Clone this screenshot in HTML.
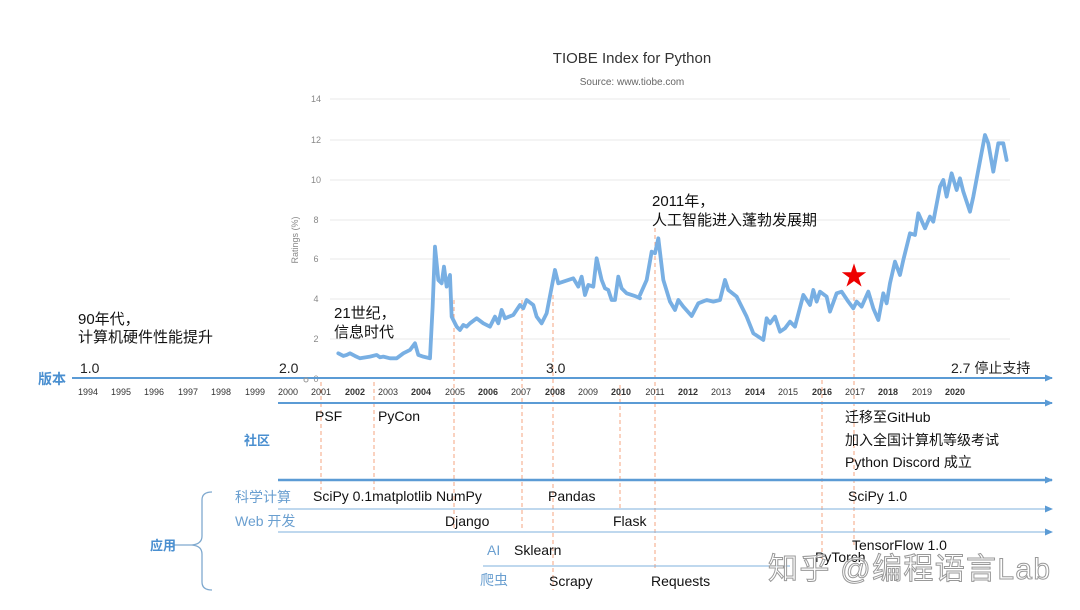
<!DOCTYPE html>
<html><head><meta charset="utf-8"><style>
html,body{margin:0;padding:0;background:#fff;}
svg{display:block;}
text{font-family:"Liberation Sans","Noto Sans CJK SC",sans-serif;}
</style></head><body>
<svg width="1080" height="610" viewBox="0 0 1080 610" xmlns="http://www.w3.org/2000/svg">
<defs>
<marker id="ar" markerWidth="8" markerHeight="8" refX="7" refY="4" orient="auto" markerUnits="userSpaceOnUse"><path d="M0,0.5 L8,4 L0,7.5z" fill="#5b9bd5"/></marker>
</defs>
<text x="632" y="63" font-size="15" fill="#333" text-anchor="middle">TIOBE Index for Python</text>
<text x="632" y="85" font-size="10" fill="#666" text-anchor="middle">Source: www.tiobe.com</text>
<text transform="translate(298,240) rotate(-90)" font-size="9" fill="#888" text-anchor="middle">Ratings (%)</text>
<g stroke="#e8e8e8" stroke-width="1">
<line x1="330" y1="99" x2="1010" y2="99"/><line x1="330" y1="140" x2="1010" y2="140"/>
<line x1="330" y1="180" x2="1010" y2="180"/><line x1="330" y1="220" x2="1010" y2="220"/>
<line x1="330" y1="259" x2="1010" y2="259"/><line x1="330" y1="299" x2="1010" y2="299"/>
<line x1="330" y1="339" x2="1010" y2="339"/>
</g>
<g font-size="9" fill="#888" text-anchor="middle">
<text x="316" y="102">14</text><text x="316" y="143">12</text><text x="316" y="183">10</text>
<text x="316" y="223">8</text><text x="316" y="262">6</text><text x="316" y="302">4</text>
<text x="316" y="342">2</text><text x="316" y="382">0</text>
</g>
<g stroke="#f4a582" stroke-width="1" stroke-dasharray="4,3">
<line x1="321" y1="382" x2="321" y2="490"/>
<line x1="374" y1="382" x2="374" y2="490"/>
<line x1="454" y1="300" x2="454" y2="530"/>
<line x1="522" y1="300" x2="522" y2="530"/>
<line x1="553" y1="295" x2="553" y2="590"/>
<line x1="620" y1="385" x2="620" y2="510"/>
<line x1="655" y1="228" x2="655" y2="568"/>
<line x1="822" y1="380" x2="822" y2="560"/>
<line x1="854" y1="290" x2="854" y2="545"/>
</g>
<g fill="none" stroke="#78afe3" stroke-width="3.8" stroke-linejoin="round" stroke-linecap="round">
<polyline vector-effect="non-scaling-stroke" transform="translate(280,40) scale(0.3333)" points="175,940 190,948 200,945 210,940 225,948 240,955 270,950 290,945 300,952 310,950 330,955 350,955 370,940 390,930 405,910 415,945 430,950 450,955 458,800 465,620 475,720 485,730 492,680 500,740 510,705 515,830 530,860 540,870 550,855 560,860 570,850 590,835 610,850 630,860 645,830 655,850 665,810 675,835 700,825 720,795 730,805 740,780 760,795 770,830 785,850 800,820 825,690 835,730 880,715 895,740 905,710 915,765 925,735 940,740 950,655 965,720 975,745 985,750 995,780 1005,780 1015,710 1025,745 1040,760 1070,770 1080,775"/>
<polyline vector-effect="non-scaling-stroke" transform="translate(640,120) scale(0.3333)" points="0,525 20,480 35,395 45,400 55,355 70,480 90,545 105,570 115,540 130,560 155,588 175,550 200,540 220,545 240,540 255,480 265,510 290,530 320,590 340,640 370,660 380,595 390,610 405,590 420,635 435,625 450,605 465,620 490,525 510,555 520,510 530,545 540,515 560,530 570,575 590,520 605,515 625,545 640,565 650,545 665,560 685,515 700,565 715,600 730,520 740,550 750,490 765,425 780,465 790,420 810,340 825,345 835,280 855,325 870,290 880,305 900,200 910,180 920,230 935,160 950,210 960,175 970,215 990,275 1000,230 1015,150 1035,45 1045,70 1060,155 1075,70 1090,70 1100,120"/>
</g>
<text x="854" y="285" font-size="26" fill="#e00" text-anchor="middle">★</text>
<g font-size="15" fill="#111">
<text x="78" y="324">90年代，</text><text x="78" y="342">计算机硬件性能提升</text>
<text x="334" y="318">21世纪，</text><text x="334" y="337">信息时代</text>
<text x="652" y="206">2011年，</text><text x="652" y="225">人工智能进入蓬勃发展期</text>
</g>
<g stroke="#5b9bd5">
<line x1="72" y1="378" x2="1052" y2="378" stroke-width="2" marker-end="url(#ar)"/>
<line x1="278" y1="403" x2="1052" y2="403" stroke-width="2" marker-end="url(#ar)"/>
<line x1="278" y1="480" x2="1052" y2="480" stroke-width="2.5" marker-end="url(#ar)"/>
<line x1="278" y1="509" x2="1052" y2="509" stroke-width="1" stroke="#7fb0dc" marker-end="url(#ar)"/>
<line x1="278" y1="532" x2="1052" y2="532" stroke-width="1" stroke="#7fb0dc" marker-end="url(#ar)"/>
<line x1="483" y1="566" x2="790" y2="566" stroke-width="1" stroke="#7fb0dc"/>
</g>
<circle cx="306" cy="380" r="2" fill="none" stroke="#999"/>
<path d="M212,492 Q202,492 202,500 L202,536 Q202,544 192,545 Q202,546 202,554 L202,582 Q202,590 212,590" fill="none" stroke="#7fa9cf" stroke-width="1.3"/>
<line x1="172" y1="545" x2="192" y2="545" stroke="#7fa9cf" stroke-width="1.3"/>
<g font-size="14" fill="#222">
<text x="80" y="373">1.0</text><text x="279" y="373">2.0</text><text x="546" y="373">3.0</text>
<text x="951" y="373">2.7 停止支持</text>
</g>
<g font-family="Liberation Serif" font-size="9" fill="#333" text-anchor="middle">
<text x="88" y="395">1994</text><text x="121" y="395">1995</text><text x="154" y="395">1996</text><text x="188" y="395">1997</text><text x="221" y="395">1998</text><text x="255" y="395">1999</text><text x="288" y="395">2000</text><text x="321" y="395">2001</text><text x="355" y="395" font-weight="bold">2002</text><text x="388" y="395">2003</text><text x="421" y="395" font-weight="bold">2004</text><text x="455" y="395">2005</text><text x="488" y="395" font-weight="bold">2006</text><text x="521" y="395">2007</text><text x="555" y="395" font-weight="bold">2008</text><text x="588" y="395">2009</text><text x="621" y="395" font-weight="bold">2010</text><text x="655" y="395">2011</text><text x="688" y="395" font-weight="bold">2012</text><text x="721" y="395">2013</text><text x="755" y="395" font-weight="bold">2014</text><text x="788" y="395">2015</text><text x="822" y="395" font-weight="bold">2016</text><text x="855" y="395">2017</text><text x="888" y="395" font-weight="bold">2018</text><text x="922" y="395">2019</text><text x="955" y="395" font-weight="bold">2020</text>
</g>
<g font-weight="bold" fill="#4a8fd0" font-size="14">
<text x="38" y="384">版本</text>
<text x="244" y="445" font-size="13">社区</text>
<text x="150" y="550" font-size="13">应用</text>
</g>
<g font-size="14" fill="#6a9fd0">
<text x="235" y="502">科学计算</text><text x="235" y="526">Web 开发</text>
<text x="487" y="555">AI</text><text x="480" y="585">爬虫</text>
</g>
<g font-size="14" fill="#111">
<text x="315" y="421">PSF</text><text x="378" y="421">PyCon</text>
<text x="845" y="422">迁移至GitHub</text><text x="845" y="445">加入全国计算机等级考试</text><text x="845" y="467">Python Discord 成立</text>
<text x="313" y="501">SciPy 0.1matplotlib NumPy</text><text x="548" y="501">Pandas</text><text x="848" y="501">SciPy 1.0</text>
<text x="445" y="526">Django</text><text x="613" y="526">Flask</text>
<text x="514" y="555">Sklearn</text><text x="852" y="550">TensorFlow 1.0</text><text x="815" y="562">PyTorch</text>
<text x="549" y="586">Scrapy</text><text x="651" y="586">Requests</text>
</g>
<text x="768" y="579" font-size="30" fill="#fff" fill-opacity="0.6" stroke="#999" stroke-width="1" textLength="282">知乎 @编程语言Lab</text>
</svg>
</body></html>
